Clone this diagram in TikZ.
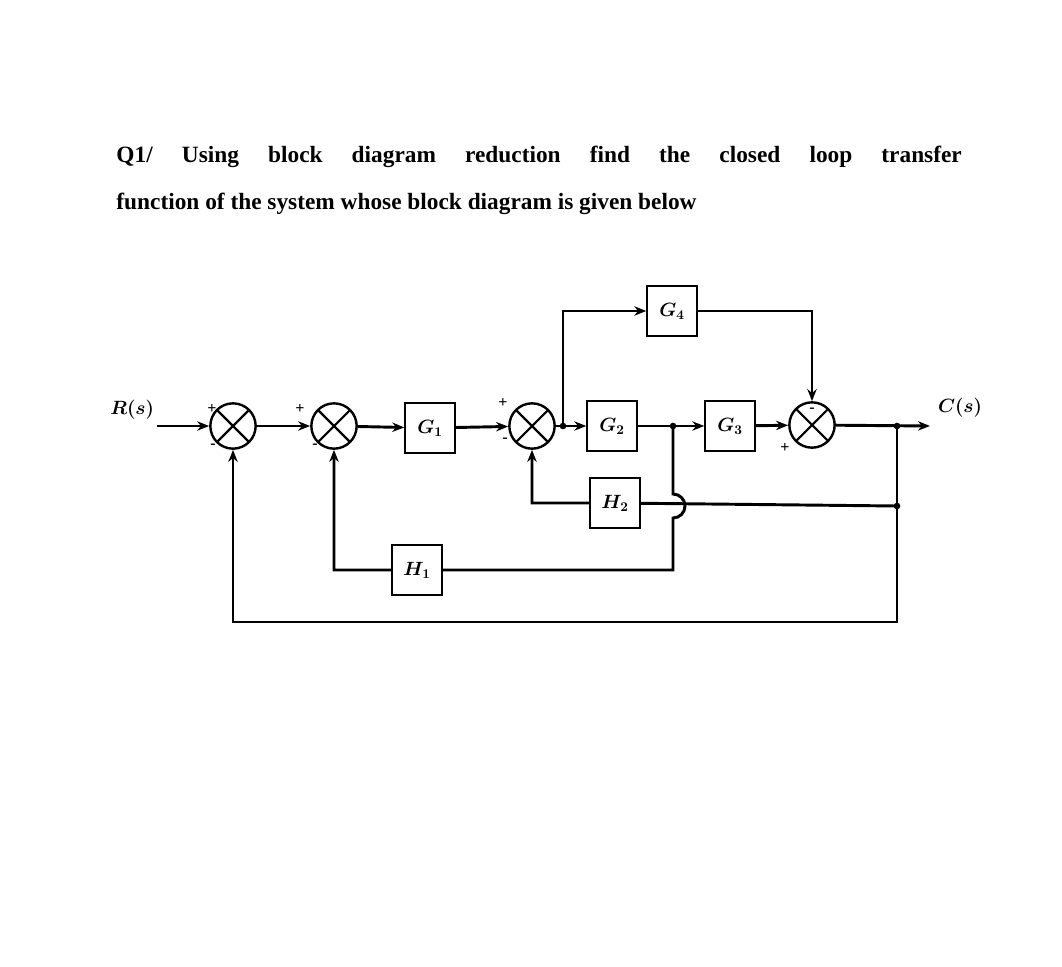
\documentclass[tikz,border=0pt]{standalone}
\usepackage{fontspec}
\setmainfont{Liberation Serif}
\usepackage{amsmath,bm}
\usetikzlibrary{arrows.meta}
\begin{document}
\begin{tikzpicture}[x=0.75pt,y=-0.75pt,
  line width=2.2pt,
  sumnode/.style={circle,draw,minimum size=34pt,inner sep=0pt,line width=1.8pt,
    path picture={\draw[line width=1.6pt] (path picture bounding box.north west)--(path picture bounding box.south east)
      (path picture bounding box.north east)--(path picture bounding box.south west);}},
  blk/.style={draw,line width=1.6pt,minimum width=37pt,minimum height=37pt,inner sep=0pt,font=\Large},
  sig/.style={font=\large\bfseries,inner sep=0pt},
  arr/.style={-{Stealth[length=9pt,width=7pt]}},
  title/.style={anchor=west,inner sep=0pt,font=\fontsize{17.5}{20}\selectfont\bfseries}]
\useasboundingbox (0,0) rectangle (1062,966);
\node[title] (t1) at (115,157) {\makebox[634pt][s]{Q1/ Using block diagram reduction find the closed loop transfer}};
\node[title] (t2) at (115,204) {function of the system whose block diagram is given below};

\node[sumnode] (s1) at (233,426) {};
\node[sumnode] (s2) at (334,426) {};
\node[sumnode] (s3) at (532,426) {};
\node[sumnode] (s4) at (812,425) {};
\node[blk] (g1) at (430,428) {$\bm{G_1}$};
\node[blk] (g2) at (612,426) {$\bm{G_2}$};
\node[blk] (g3) at (730,426) {$\bm{G_3}$};
\node[blk] (g4) at (672,311) {$\bm{G_4}$};
\node[blk] (h2) at (615,503) {$\bm{H_2}$};
\node[blk] (h1) at (417,570) {$\bm{H_1}$};
\node[font=\Large,anchor=east] (R) at (160,410) {$\bm{R(s)}$};
\node[font=\Large] (C) at (960,408) {$\bm{C(s)}$};

\coordinate (rin) at (157,426);
\coordinate (b1) at (563,426);
\coordinate (b2) at (673,426);
\coordinate (b3) at (897,426);
\coordinate (cout) at (930,426);
\coordinate (b4) at (897,506);

\draw[arr] (rin) -- (s1);
\draw[arr] (s1) -- (s2);
\draw[arr] (s2) -- (g1);
\draw[arr] (g1) -- (s3);
\draw[arr] (s3) -- (g2);
\draw[arr] (g2) -- (g3);
\draw[arr] (g3) -- (s4);
\draw[arr] (s4) -- (cout);
\draw[arr] (b1) |- (g4);
\draw[arr] (g4) -| (s4);
\draw[arr] (b3) |- (233,622) -- (s1);
\draw[arr] (b4) -- (h2) -| (s3);
\draw[arr] (b2) -- (673,494) arc[start angle=90,end angle=-90,radius=9pt] -- (673,570) -- (h1) -| (s2);
\draw (b3) -- (b4);
\foreach \p in {b1,b2,b3,b4} \fill (\p) circle (2.5pt);

\node[sig] at (212,409) {+};
\node[sig] at (213,446) {-};
\node[sig] at (300,409) {+};
\node[sig] at (315,446) {-};
\node[sig] at (503,403) {+};
\node[sig] at (505,440) {-};
\node[sig] at (812,410) {-};
\node[sig] at (785,448) {+};
\end{tikzpicture}
\end{document}
